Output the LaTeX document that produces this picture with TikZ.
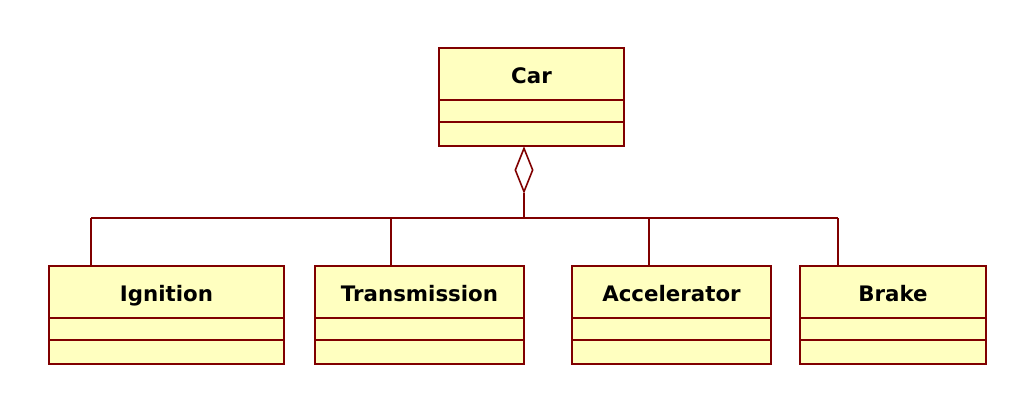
\documentclass[tikz,border=0pt]{standalone}
\usepackage{fontspec}
\setmainfont{DejaVu Sans}
\usetikzlibrary{shapes.geometric}
\definecolor{bd}{HTML}{800000}
\definecolor{fl}{HTML}{FFFFC0}
\begin{document}
\begin{tikzpicture}[x=0.75pt,y=-0.75pt,line width=1.6pt,
  cls/.style={draw=bd,fill=fl},
  lbl/.style={font=\bfseries\fontsize{16}{19}\selectfont,inner sep=0pt,anchor=base},
  dia/.style={diamond,draw=bd,fill=white,line width=1.2pt,minimum width=13.5pt,minimum height=33pt,inner sep=0pt}]
\useasboundingbox (0,0) rectangle (1035,414);
\newcommand{\umlbox}[5]{%
  \draw[cls] (#1,#2) rectangle (#3,#2+98);
  \draw[bd] (#1,#2+52) -- (#3,#2+52) (#1,#2+74) -- (#3,#2+74);
  \node[lbl] (#4) at ({(#1+#3)/2},#2+35) {#5};
  \coordinate (#4t) at ({(#1+#3)/2},#2);}
\umlbox{439}{48}{624}{car}{Car}
\umlbox{49}{266}{284}{ign}{Ignition}
\umlbox{315}{266}{524}{tra}{Transmission}
\umlbox{572}{266}{771}{acc}{Accelerator}
\umlbox{800}{266}{986}{brk}{Brake}
\node[dia] (d) at (524,170) {};
\coordinate (j) at (524,218);
\coordinate (ji) at (91,218);
\coordinate (jt) at (391,218);
\coordinate (ja) at (649,218);
\coordinate (jb) at (838,218);
\draw[bd] (d.south) -- (j);
\draw[bd] (ji) -- (jb);
\draw[bd] (ji) -- (ji |- ignt);
\draw[bd] (jt) -- (jt |- trat);
\draw[bd] (ja) -- (ja |- acct);
\draw[bd] (jb) -- (jb |- brkt);
\end{tikzpicture}
\end{document}
